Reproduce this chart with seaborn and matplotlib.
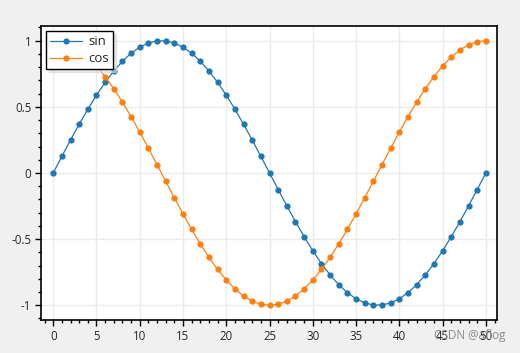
import pandas as pd
import seaborn as sns
import matplotlib.pyplot as plt
from matplotlib.ticker import MultipleLocator, FuncFormatter

# data
x_vals = list(range(51))
sin_vals = [0.0, 0.125, 0.249, 0.368, 0.482, 0.588, 0.685, 0.771, 0.844, 0.905,
            0.951, 0.982, 0.998, 0.998, 0.982, 0.951, 0.905, 0.844, 0.771, 0.685,
            0.588, 0.482, 0.368, 0.249, 0.125, 0.0, -0.125, -0.249, -0.368, -0.482,
            -0.588, -0.685, -0.771, -0.844, -0.905, -0.951, -0.982, -0.998, -0.998, -0.982,
            -0.951, -0.905, -0.844, -0.771, -0.685, -0.588, -0.482, -0.368, -0.249, -0.125,
            0.0]
cos_vals = [1.0, 0.992, 0.969, 0.930, 0.876, 0.809, 0.729, 0.637, 0.536, 0.426,
            0.309, 0.187, 0.063, -0.063, -0.187, -0.309, -0.426, -0.536, -0.637, -0.729,
            -0.809, -0.876, -0.930, -0.969, -0.992, -1.0, -0.992, -0.969, -0.930, -0.876,
            -0.809, -0.729, -0.637, -0.536, -0.426, -0.309, -0.187, -0.063, 0.063, 0.187,
            0.309, 0.426, 0.536, 0.637, 0.729, 0.809, 0.876, 0.930, 0.969, 0.992,
            1.0]
series_names = ["sin", "cos"]
colors = ["#1f77b4", "#ff7f0e"]

df = pd.DataFrame({"x": x_vals, "sin": sin_vals, "cos": cos_vals})

sns.set_style("white")
plt.rcParams["font.family"] = ["Open Sans", "DejaVu Sans"]
plt.rcParams["axes.unicode_minus"] = False

fig = plt.figure(figsize=(5.2, 3.53), dpi=100, facecolor="#f0f0f0")
ax = fig.add_axes([0.079, 0.094, 0.877, 0.832])
ax.set_facecolor("white")

for name, c in zip(series_names, colors):
    sns.lineplot(data=df, x="x", y=name, ax=ax, color=c, marker="o", markersize=4.5,
                 markeredgewidth=0, linewidth=0.9, label=name)

ax.set_xlim(-1.4, 51.3)
ax.set_ylim(-1.11, 1.11)
ax.set_xlabel("")
ax.set_ylabel("")

ax.xaxis.set_major_locator(MultipleLocator(5))
ax.xaxis.set_minor_locator(MultipleLocator(1))
ax.yaxis.set_major_locator(MultipleLocator(0.5))
ax.yaxis.set_minor_locator(MultipleLocator(0.1))
fmt = FuncFormatter(lambda v, p: "%g" % round(v, 3))
ax.xaxis.set_major_formatter(fmt)
ax.yaxis.set_major_formatter(fmt)

ax.tick_params(which="major", direction="out", length=4, width=1, labelsize=8.3,
               color="black", bottom=True, left=True, pad=3)
ax.tick_params(which="minor", direction="out", length=2.5, width=1,
               color="black", bottom=True, left=True)

ax.grid(True, which="major", color="#ebebeb", linewidth=1)
ax.set_axisbelow(True)
for s in ax.spines.values():
    s.set_color("black")
    s.set_linewidth(1.2)

leg = ax.legend(loc="upper left", fontsize=9.5, frameon=True, fancybox=False,
                shadow={"color": "#d8d8d8", "alpha": 0.6, "ox": 2, "oy": -2},
                borderaxespad=0.4, handlelength=2.4,
                borderpad=0.3, labelspacing=0.3, handletextpad=0.5, framealpha=1)
leg.get_frame().set_edgecolor("black")
leg.get_frame().set_linewidth(1)

fig.text(0.972, 0.03, "CSDN @aflog", ha="right", va="bottom", fontsize=8.5, color="#8a8a8a")

fig.savefig("out.png", dpi=100, facecolor=fig.get_facecolor())
